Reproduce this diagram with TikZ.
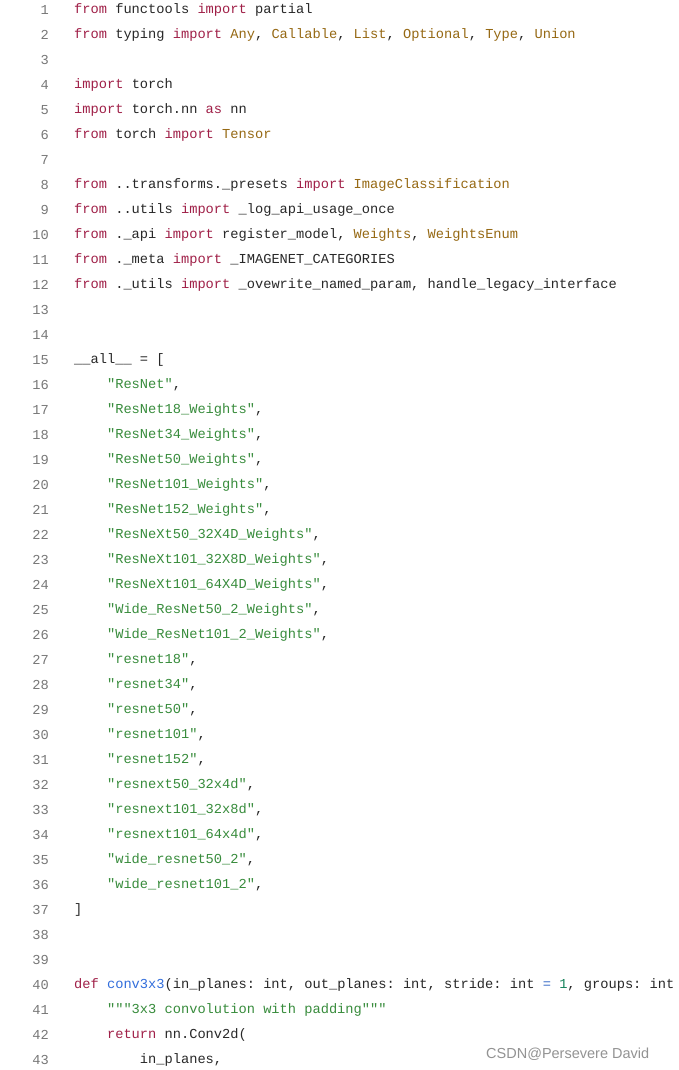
\documentclass[tikz,border=0pt]{standalone}
\usepackage{fontspec}
\setmonofont{Liberation Mono}
\setsansfont{Liberation Sans}
\definecolor{kw}{RGB}{160,32,72}
\definecolor{cls}{RGB}{150,105,20}
\definecolor{str}{RGB}{56,140,60}
\definecolor{fn}{RGB}{50,110,220}
\definecolor{num}{RGB}{20,130,90}
\definecolor{op}{RGB}{60,110,200}
\definecolor{lnum}{RGB}{120,120,120}
\definecolor{txt}{RGB}{40,40,40}
\newcommand{\K}[1]{\textcolor{kw}{#1}}
\newcommand{\C}[1]{\textcolor{cls}{#1}}
\newcommand{\Sx}[1]{\textcolor{str}{#1}}
\newcommand{\F}[1]{\textcolor{fn}{#1}}
\newcommand{\Nm}[1]{\textcolor{num}{#1}}
\newcommand{\Op}[1]{\textcolor{op}{#1}}
\newcommand{\I}{\phantom{xxxx}}
\tikzset{
  code/.style={anchor=west,inner sep=0pt,text=txt,font=\ttfamily\fontsize{13.7pt}{15pt}\selectfont},
  lno/.style={anchor=east,inner sep=0pt,text=lnum,font=\ttfamily\fontsize{13.7pt}{15pt}\selectfont},
}
\newcommand{\Ln}[2]{%
  \node[lno] (n#1) at (49pt,{-(10+25*(#1-1))*1pt}) {#1};
  \node[code] (l#1) at (74pt,{-(10+25*(#1-1))*1pt}) {#2};}
\begin{document}
\begin{tikzpicture}
\useasboundingbox (0,0) rectangle (678pt,-1070pt);
\clip (0,0) rectangle (678pt,-1070pt);
\fill[white] (0,0) rectangle (678pt,-1070pt);
\Ln{1}{\K{from} functools \K{import} partial}
\Ln{2}{\K{from} typing \K{import} \C{Any}, \C{Callable}, \C{List}, \C{Optional}, \C{Type}, \C{Union}}
\Ln{3}{}
\Ln{4}{\K{import} torch}
\Ln{5}{\K{import} torch.nn \K{as} nn}
\Ln{6}{\K{from} torch \K{import} \C{Tensor}}
\Ln{7}{}
\Ln{8}{\K{from} ..transforms.\_presets \K{import} \C{ImageClassification}}
\Ln{9}{\K{from} ..utils \K{import} \_log\_api\_usage\_once}
\Ln{10}{\K{from} .\_api \K{import} register\_model, \C{Weights}, \C{WeightsEnum}}
\Ln{11}{\K{from} .\_meta \K{import} \_IMAGENET\_CATEGORIES}
\Ln{12}{\K{from} .\_utils \K{import} \_ovewrite\_named\_param, handle\_legacy\_interface}
\Ln{13}{}
\Ln{14}{}
\Ln{15}{\_\_all\_\_ = [}
\Ln{16}{\I\Sx{"ResNet"},}
\Ln{17}{\I\Sx{"ResNet18\_Weights"},}
\Ln{18}{\I\Sx{"ResNet34\_Weights"},}
\Ln{19}{\I\Sx{"ResNet50\_Weights"},}
\Ln{20}{\I\Sx{"ResNet101\_Weights"},}
\Ln{21}{\I\Sx{"ResNet152\_Weights"},}
\Ln{22}{\I\Sx{"ResNeXt50\_32X4D\_Weights"},}
\Ln{23}{\I\Sx{"ResNeXt101\_32X8D\_Weights"},}
\Ln{24}{\I\Sx{"ResNeXt101\_64X4D\_Weights"},}
\Ln{25}{\I\Sx{"Wide\_ResNet50\_2\_Weights"},}
\Ln{26}{\I\Sx{"Wide\_ResNet101\_2\_Weights"},}
\Ln{27}{\I\Sx{"resnet18"},}
\Ln{28}{\I\Sx{"resnet34"},}
\Ln{29}{\I\Sx{"resnet50"},}
\Ln{30}{\I\Sx{"resnet101"},}
\Ln{31}{\I\Sx{"resnet152"},}
\Ln{32}{\I\Sx{"resnext50\_32x4d"},}
\Ln{33}{\I\Sx{"resnext101\_32x8d"},}
\Ln{34}{\I\Sx{"resnext101\_64x4d"},}
\Ln{35}{\I\Sx{"wide\_resnet50\_2"},}
\Ln{36}{\I\Sx{"wide\_resnet101\_2"},}
\Ln{37}{]}
\Ln{38}{}
\Ln{39}{}
\Ln{40}{\K{def} \F{conv3x3}(in\_planes: int, out\_planes: int, stride: int \Op{=} \Nm{1}, groups: int}
\Ln{41}{\I\Sx{"""3x3 convolution with padding"""}}
\Ln{42}{\I\K{return} nn.Conv2d(}
\Ln{43}{\I\I in\_planes,}
\node[anchor=west,inner sep=0pt,text=lnum!80,font=\sffamily\fontsize{14.5pt}{16pt}\selectfont] (wm) at (486pt,-1054pt) {CSDN@Persevere David};
\end{tikzpicture}
\end{document}
